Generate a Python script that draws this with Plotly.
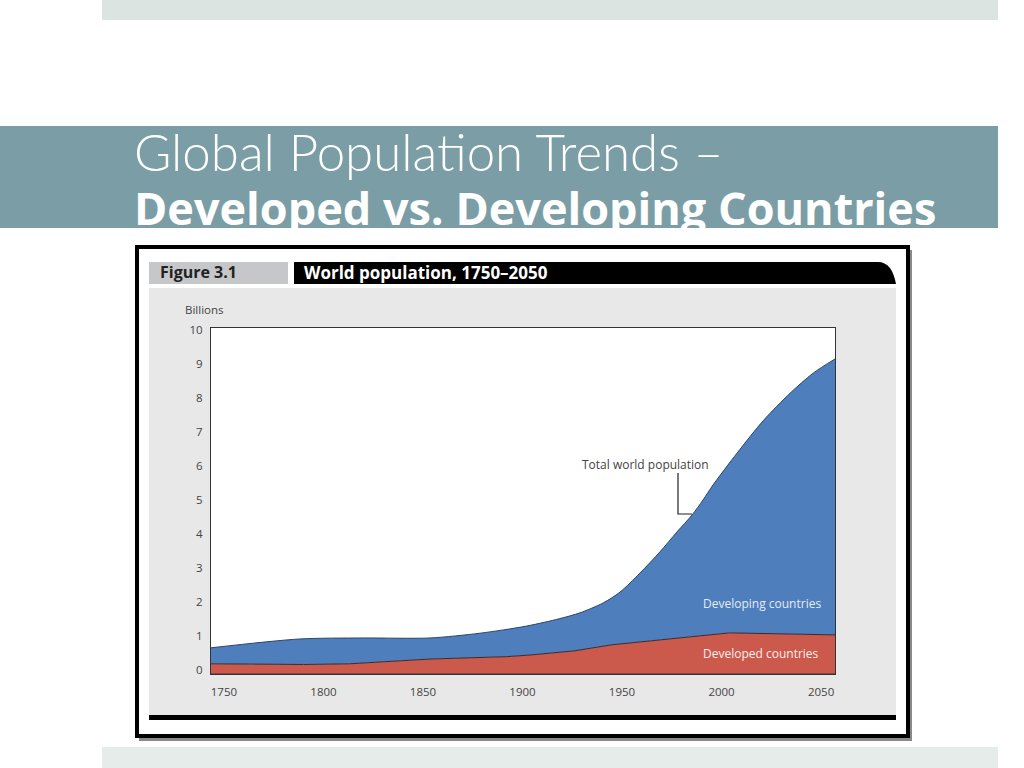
import plotly.graph_objects as go

total_years = [1743.5, 1788, 1820, 1853.5, 1878.6, 1902, 1918.8, 1928.9, 1940.5, 1949, 1959, 1969, 1977.6, 1985.2, 1990.7, 1995.7, 2007.8, 2021.2, 2034.4, 2046, 2057]
total_values = [0.65, 0.91, 0.94, 0.94, 1.08, 1.29, 1.51, 1.68, 1.97, 2.29, 2.85, 3.47, 4.06, 4.56, 5.0, 5.44, 6.38, 7.35, 8.14, 8.73, 9.15]
developed_years = [1743.5, 1790, 1813, 1853.5, 1892, 1904, 1926, 1945, 2004, 2057]
developed_values = [0.18, 0.16, 0.18, 0.32, 0.39, 0.44, 0.56, 0.74, 1.09, 1.03]
axis_floor = -0.12
y_ticks = [0, 1, 2, 3, 4, 5, 6, 7, 8, 9, 10]
x_ticks = [1750, 1800, 1850, 1900, 1950, 2000, 2050]

W, H = 1024, 768
def px(x): return x / W
def py(y): return 1 - y / H
def rect(x0, y0, x1, y1, fill, line=None, lw=0):
    return dict(type="rect", xref="paper", yref="paper", x0=px(x0), x1=px(x1), y0=py(y0), y1=py(y1),
                fillcolor=fill, line=dict(color=line or fill, width=lw), layer="below")
def note(x, y, text, size, color, font="Open Sans", anchor="left", weight=None):
    f = dict(family=font, size=size, color=color)
    if weight:
        f["weight"] = weight
    return dict(xref="paper", yref="paper", x=px(x), y=py(y), text=text, showarrow=False, xanchor=anchor,
                yanchor="middle", font=f)

fig = go.Figure()
fig.add_trace(go.Scatter(x=[total_years[0], total_years[-1]], y=[axis_floor, axis_floor], mode="lines",
                         line=dict(color="#3a3a3a", width=1), hoverinfo="skip", showlegend=False))
fig.add_trace(go.Scatter(x=developed_years, y=developed_values, mode="lines", fill="tonexty",
                         fillcolor="#cb5a4c", line=dict(color="#3a2a2a", width=1),
                         hoverinfo="skip", showlegend=False))
fig.add_trace(go.Scatter(x=total_years, y=total_values, mode="lines", fill="tonexty",
                         fillcolor="#4f7ebc", line=dict(color="#2f4560", width=1, shape="spline", smoothing=0.8),
                         hoverinfo="skip", showlegend=False))

shapes = [
    rect(102, 0, 998, 20, "#dce4e1"),
    rect(102, 747, 998, 768, "#e6ecea"),
    rect(0, 126, 998, 228, "#7b9ea6"),
    rect(139, 250, 912, 741, "#8a8a8a"),
    rect(137, 247, 908, 736, "#ffffff", "#000000", 4),
    rect(149, 288, 896, 716, "#e8e8e8"),
    rect(211, 328, 835, 674, "#ffffff"),
    rect(149, 262, 288, 284, "#c6c7c9"),
    dict(type="path", xref="paper", yref="paper", layer="below", fillcolor="#000000", line=dict(width=0),
         path=f"M {px(294)},{py(284)} L {px(294)},{py(262)} L {px(878)},{py(262)} "
              f"Q {px(892)},{py(262)} {px(896)},{py(284)} Z"),
    rect(149, 715, 896, 720, "#000000"),
    dict(type="path", xref="paper", yref="paper", layer="above", line=dict(color="#222222", width=1.2),
         path=f"M {px(678)},{py(473)} L {px(678)},{py(514)} L {px(692)},{py(514)}"),
]
annotations = [
    note(132, 151, "Global Population Trends –", 51, "#ffffff", "Lato", weight=300),
    note(132, 207, "<b>Developed vs. Developing Countries</b>", 45, "#ffffff"),
    note(158, 272, "<b>Figure 3.1</b>", 16, "#222222"),
    note(302, 272, "<b>World population, 1750–2050</b>", 17, "#ffffff"),
    note(183, 310, "Billions", 11.5, "#444444"),
    note(580, 464, "Total world population", 12, "#444444"),
    note(701, 603, "Developing countries", 12, "#e4ecf6"),
    note(701, 653, "Developed countries", 12, "#fbeeee"),
]
fig.update_layout(
    width=W, height=H, margin=dict(l=0, r=0, t=0, b=0), autosize=False,
    paper_bgcolor="#ffffff", plot_bgcolor="#ffffff", showlegend=False, hovermode=False,
    shapes=shapes, annotations=annotations,
    xaxis=dict(domain=[px(211), px(835)], range=[total_years[0], total_years[-1]], tickvals=x_ticks,
               automargin=False, showgrid=False, zeroline=False, ticks="", showline=True, mirror=True,
               linecolor="#333333", linewidth=1, ticklabelstandoff=7,
               tickfont=dict(family="Open Sans", size=11.5, color="#444444")),
    yaxis=dict(domain=[py(674), py(328)], range=[axis_floor, 10.06], tickvals=y_ticks,
               automargin=False, showgrid=False, zeroline=False, ticks="", showline=True, mirror=True,
               linecolor="#333333", linewidth=1, ticklabelstandoff=5,
               tickfont=dict(family="Open Sans", size=11.5, color="#444444")),
)
fig.write_html("out.html", config=dict(displayModeBar=False),
               post_script="document.body.style.margin='0';document.body.style.overflow='hidden';")
